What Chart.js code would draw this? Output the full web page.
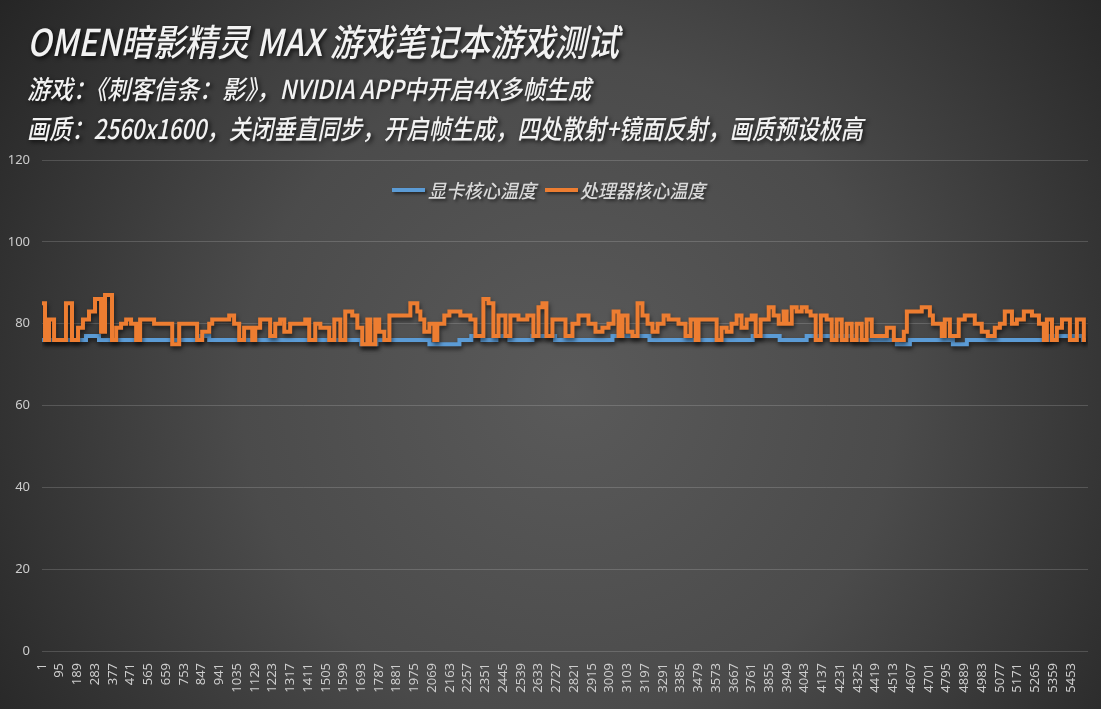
<!DOCTYPE html>
<html lang="zh-CN">
<head>
<meta charset="UTF-8">
<script src="https://cdn.jsdelivr.net/npm/chart.js"></script>
<title>OMEN暗影精灵 MAX 游戏测试</title>
<style>
  html, body { margin: 0; padding: 0; background: #333; }
  canvas { display: block; }
</style>
</head>
<body>
<canvas id="myChart" width="1101" height="709"></canvas>
<script>
// title lines
const titleLines = [
    'OMEN暗影精灵 MAX 游戏笔记本游戏测试',
    '游戏：《刺客信条：影》，NVIDIA APP中开启4X多帧生成',
    '画质：2560x1600，关闭垂直同步，开启帧生成，四处散射+镜面反射，画质预设极高'
];

const seriesNames = ['显卡核心温度', '处理器核心温度'];

// x tick labels (sample index)
const xTicks = [1, 95, 189, 283, 377, 471, 565, 659, 753, 847, 941, 1035, 1129, 1223, 1317, 1411,
    1505, 1599, 1693, 1787, 1881, 1975, 2069, 2163, 2257, 2351, 2445, 2539, 2633, 2727, 2821, 2915,
    3009, 3103, 3197, 3291, 3385, 3479, 3573, 3667, 3761, 3855, 3949, 4043, 4137, 4231, 4325, 4419,
    4513, 4607, 4701, 4795, 4889, 4983, 5077, 5171, 5265, 5359, 5453];
const lastSample = 5533;

// GPU temp: sample index where a new value starts, and the value
const gpuX = [1, 234, 303, 834, 887, 1693, 1773, 2054, 2213, 2276, 2335, 2409, 2478, 2600, 2720,
    3024, 3220, 3767, 3910, 4053, 4297, 4531, 4600, 4828, 4902, 5342, 5517];
const gpuTemp = [76, 77, 76, 77, 76, 75, 76, 75, 76, 77, 76, 77, 76, 77, 76,
    77, 76, 77, 76, 77, 76, 75, 76, 75, 76, 77, 76];

// CPU temp: same layout
const cpuX = [1, 17, 38, 65, 128, 160, 192, 218, 250, 282, 314, 335, 372, 394, 420, 447, 473, 500,
    521, 595, 691, 728, 823, 850, 887, 903, 993, 1019, 1046, 1072, 1115, 1131, 1157, 1210, 1237,
    1263, 1285, 1316, 1396, 1417, 1449, 1476, 1523, 1550, 1582, 1608, 1645, 1672, 1698, 1725, 1741,
    1767, 1788, 1815, 1842, 1953, 1990, 2006, 2027, 2054, 2080, 2096, 2133, 2160, 2218, 2271, 2298,
    2340, 2367, 2393, 2420, 2457, 2483, 2526, 2573, 2605, 2632, 2653, 2674, 2706, 2775, 2812, 2844,
    2897, 2934, 2971, 3003, 3030, 3056, 3077, 3104, 3130, 3157, 3183, 3210, 3236, 3263, 3295, 3321,
    3374, 3411, 3438, 3465, 3480, 3576, 3602, 3629, 3655, 3682, 3708, 3735, 3762, 3783, 3809, 3852,
    3878, 3905, 3931, 3947, 3974, 4000, 4027, 4053, 4074, 4101, 4128, 4159, 4186, 4212, 4239, 4265,
    4292, 4318, 4345, 4371, 4398, 4478, 4515, 4568, 4584, 4663, 4706, 4722, 4769, 4785, 4812, 4859,
    4891, 4944, 4981, 5013, 5050, 5077, 5103, 5141, 5167, 5204, 5247, 5284, 5310, 5326, 5353, 5379,
    5406, 5448, 5485, 5522];
const cpuTemp = [85, 76, 81, 76, 85, 76, 79, 81, 83, 86, 78, 87, 76, 79, 80, 81, 80, 76,
    81, 80, 75, 80, 76, 78, 80, 81, 82, 80, 76, 79, 76, 79, 81, 77, 80,
    81, 78, 80, 81, 76, 80, 79, 76, 81, 76, 83, 82, 79, 75, 81, 75,
    81, 78, 76, 82, 85, 83, 81, 78, 80, 76, 80, 82, 83, 82, 81, 77,
    86, 85, 77, 82, 77, 82, 81, 82, 77, 84, 85, 77, 81, 77, 80, 82,
    80, 78, 79, 80, 83, 77, 82, 78, 77, 85, 82, 80, 78, 80, 82, 81,
    80, 77, 81, 76, 81, 76, 79, 78, 80, 82, 79, 81, 82, 77, 81, 84,
    82, 80, 83, 80, 84, 83, 84, 83, 82, 76, 82, 81, 76, 81, 76, 80,
    76, 80, 76, 81, 77, 79, 76, 78, 83, 84, 82, 80, 77, 81, 77, 81,
    82, 80, 78, 77, 79, 80, 83, 80, 81, 83, 82, 80, 76, 81, 76, 79,
    81, 76, 81, 76];

const gpuColor = '#5B9BD5';
const cpuColor = '#ED7D31';

function toPoints(xs, ys) {
    const pts = xs.map((x, i) => ({ x: x, y: ys[i] }));
    pts.push({ x: lastSample, y: ys[ys.length - 1] });
    return pts;
}

const bgPlugin = {
    id: 'bg',
    beforeDraw(chart) {
        const ctx = chart.ctx;
        const w = chart.width, h = chart.height;
        const g = ctx.createRadialGradient(570, 390, 0, 570, 390, 730);
        g.addColorStop(0, '#5a5a5a');
        g.addColorStop(0.45, '#4b4b4b');
        g.addColorStop(1, '#212121');
        ctx.save();
        ctx.fillStyle = g;
        ctx.fillRect(0, 0, w, h);
        ctx.restore();
    }
};

const shadowPlugin = {
    id: 'lineShadow',
    beforeDatasetsDraw(chart) {
        const ctx = chart.ctx;
        ctx.save();
        ctx.shadowColor = 'rgba(0,0,0,0.55)';
        ctx.shadowBlur = 4;
        ctx.shadowOffsetX = 1;
        ctx.shadowOffsetY = 3;
    },
    afterDatasetsDraw(chart) {
        chart.ctx.restore();
    }
};

const textPlugin = {
    id: 'texts',
    afterDraw(chart) {
        const ctx = chart.ctx;
        ctx.save();
        ctx.textBaseline = 'alphabetic';
        ctx.textAlign = 'left';
        ctx.shadowColor = 'rgba(0,0,0,0.75)';
        ctx.shadowBlur = 4;
        ctx.shadowOffsetX = 2;
        ctx.shadowOffsetY = 2;
        ctx.fillStyle = '#f2f2f2';
        ctx.font = 'italic 500 37px "Noto Sans CJK SC"';
        ctx.fillText(titleLines[0], 27, 56, 592);
        ctx.font = 'italic 500 26px "Noto Sans CJK SC"';
        ctx.fillText(titleLines[1], 27, 99, 564);
        ctx.font = 'italic 500 27px "Noto Sans CJK SC"';
        ctx.fillText(titleLines[2], 27, 139, 836);

        // legend
        ctx.shadowColor = 'rgba(0,0,0,0.5)';
        ctx.shadowBlur = 3;
        ctx.font = 'italic 500 19px "Noto Sans CJK SC"';
        ctx.textBaseline = 'middle';
        const ds = chart.data.datasets;
        const items = [
            { x: 392, tx: 428, w: 108, i: 0 },
            { x: 545, tx: 580, w: 125, i: 1 }
        ];
        items.forEach(it => {
            ctx.strokeStyle = ds[it.i].borderColor;
            ctx.lineWidth = 4;
            ctx.beginPath();
            ctx.moveTo(it.x, 190);
            ctx.lineTo(it.x + 33, 190);
            ctx.stroke();
            ctx.fillStyle = '#d9d9d9';
            ctx.fillText(ds[it.i].label, it.tx, 191, it.w);
        });
        ctx.restore();
    }
};

const ctx = document.getElementById('myChart').getContext('2d');
const chart = new Chart(ctx, {
    type: 'line',
    data: {
        datasets: [
            {
                label: seriesNames[0],
                data: toPoints(gpuX, gpuTemp),
                borderColor: gpuColor,
                borderWidth: 4,
                pointRadius: 0,
                stepped: true,
                fill: false,
                order: 1
            },
            {
                label: seriesNames[1],
                data: toPoints(cpuX, cpuTemp),
                borderColor: cpuColor,
                borderWidth: 4,
                pointRadius: 0,
                stepped: true,
                fill: false,
                order: 0
            }
        ]
    },
    options: {
        responsive: false,
        animation: false,
        layout: { padding: { top: 160, right: 13, left: 0, bottom: 0 } },
        plugins: {
            legend: { display: false },
            title: { display: false },
            tooltip: { enabled: false }
        },
        scales: {
            x: {
                type: 'linear',
                min: 1,
                max: 5544,
                grid: { display: false },
                border: { display: false },
                afterBuildTicks(scale) {
                    scale.ticks = xTicks.map(v => ({ value: v }));
                },
                afterFit(scale) { scale.height = 58; },
                ticks: {
                    autoSkip: false,
                    minRotation: 90,
                    maxRotation: 90,
                    padding: 4,
                    color: '#cccccc',
                    font: { family: '"Noto Sans"', size: 13 },
                    callback: v => String(v)
                }
            },
            y: {
                min: 0,
                max: 120,
                afterFit(scale) { scale.width = 42; },
                grid: { color: 'rgba(255,255,255,0.16)', lineWidth: 1, drawTicks: false },
                border: { display: false },
                ticks: {
                    stepSize: 20,
                    padding: 12,
                    color: '#cccccc',
                    font: { family: '"Noto Sans"', size: 13 }
                }
            }
        }
    },
    plugins: [bgPlugin, shadowPlugin, textPlugin]
});
</script>
</body>
</html>
